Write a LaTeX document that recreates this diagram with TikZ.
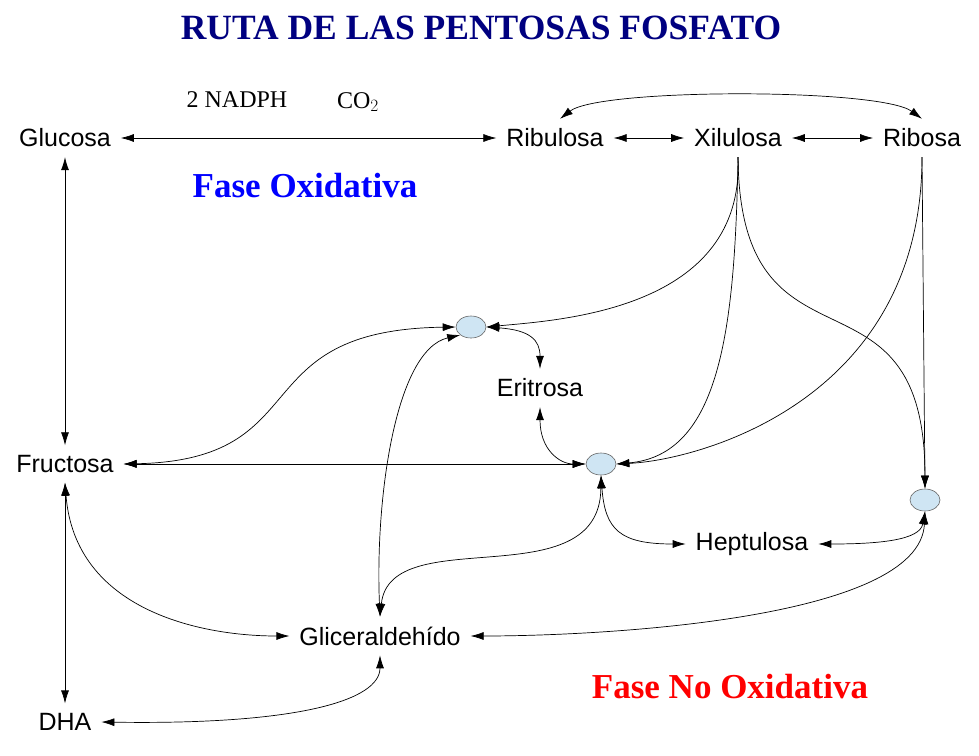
\documentclass[tikz,border=0pt]{standalone}
\usepackage{fontspec}
\setmainfont{Liberation Serif}
\setsansfont{Liberation Sans}
\usetikzlibrary{arrows.meta,shapes.geometric}
\definecolor{hubfill}{HTML}{CFE5F3}
\begin{document}
\begin{tikzpicture}[x=1pt,y=-1pt,
  lbl/.style={font=\sffamily\fontsize{25}{27}\selectfont,inner sep=2pt,outer sep=8pt},
  hub/.style={ellipse,draw=black!60,fill=hubfill,minimum width=30pt,minimum height=22pt,inner sep=0pt,line width=0.6pt},
  conn/.style={{Latex[length=13pt,width=8pt]}-{Latex[length=13pt,width=8pt]},line width=0.7pt},
  oneway/.style={-{Latex[length=13pt,width=8pt]},line width=0.7pt}]
\useasboundingbox (0,0) rectangle (979,755);
\node[font=\bfseries\fontsize{35.5}{38}\selectfont,text=blue!50!black] (title) at (481,28) {RUTA DE LAS PENTOSAS FOSFATO};
\node[font=\fontsize{24}{26}\selectfont] (nadph) at (237,100) {2 NADPH};
\node[font=\fontsize{24}{26}\selectfont] (co2) at (358,102) {CO$_2$};
\node[font=\bfseries\fontsize{35}{38}\selectfont,text=blue] (fox) at (305,186) {Fase Oxidativa};
\node[font=\bfseries\fontsize{35}{38}\selectfont,text=red] (fno) at (730,687) {Fase No Oxidativa};
\node[lbl] (glu) at (65,138) {Glucosa};
\node[lbl] (rib) at (555,138) {Ribulosa};
\node[lbl] (xil) at (738,138) {Xilulosa};
\node[lbl] (ribo) at (922,138) {Ribosa};
\node[lbl] (eri) at (540,388) {Eritrosa};
\node[lbl] (fru) at (65,464) {Fructosa};
\node[lbl] (hep) at (752,544) {Heptulosa};
\node[lbl] (gli) at (380,636) {Gliceraldehído};
\node[lbl] (dha) at (65,722) {DHA};
\node[hub] (e1) at (471,327) {};
\node[hub] (e2) at (601,464) {};
\node[hub] (e3) at (925,500) {};
\draw[conn] (glu) -- (rib);
\draw[conn] (rib) -- (xil);
\draw[conn] (xil) -- (ribo);
\draw[conn] ([xshift=5pt]rib.north) .. controls (600,88) and (880,88) .. (ribo.north);
\draw[conn] (glu) -- (fru);
\draw[conn] (fru) -- (dha);
\draw[oneway] (xil.south) .. controls (745,310) and (560,320) .. (e1.east);
\draw[oneway] (xil.south) .. controls (735,330) and (720,455) .. (e2.east);
\draw[oneway] (xil.south) .. controls (740,390) and (925,250) .. (e3.north);
\draw[oneway] (ribo.south) .. controls (922,400) and (700,460) .. (e2.east);
\draw[oneway] (ribo.south) -- (e3.north);
\draw[conn] (fru.east) .. controls (320,460) and (240,330) .. (e1.west);
\draw[conn] (fru.east) -- (e2.west);
\draw[conn] (e1.east) .. controls (530,330) and (540,340) .. (eri.north);
\draw[conn] (eri.south) .. controls (540,450) and (560,464) .. (e2.west);
\draw[conn] (e1.south west) .. controls (395,350) and (375,500) .. (gli.north);
\draw[conn] (e2.south) .. controls (600,600) and (390,520) .. (gli.north);
\draw[conn] (e2.south) .. controls (605,530) and (620,544) .. (hep.west);
\draw[conn] (hep.east) .. controls (880,544) and (920,540) .. (e3.south);
\draw[conn] (e3.south) .. controls (920,620) and (600,636) .. (gli.east);
\draw[conn] (fru.south) .. controls (75,610) and (200,636) .. (gli.west);
\draw[conn] (dha.east) .. controls (300,725) and (380,700) .. (gli.south);
\end{tikzpicture}
\end{document}
